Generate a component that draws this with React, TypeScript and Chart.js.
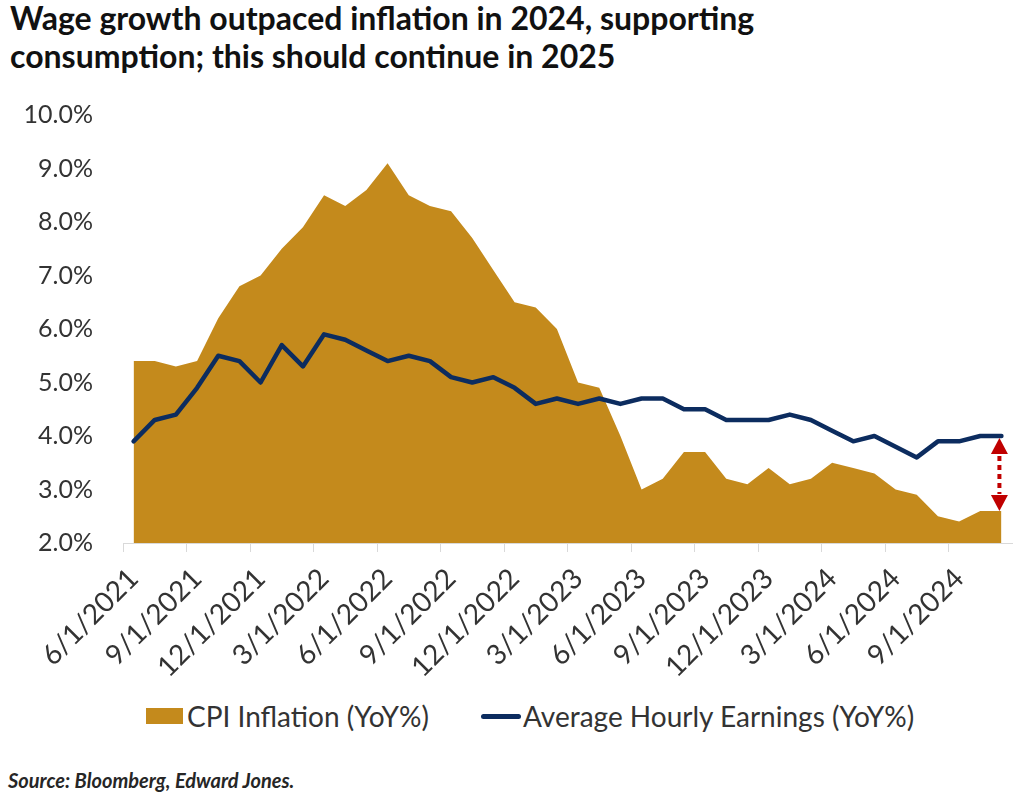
import React, { useEffect, useRef } from 'react';
import { Chart, registerables } from 'chart.js';

Chart.register(...registerables);

const categories = [
  '6/1/2021', '7/1/2021', '8/1/2021', '9/1/2021', '10/1/2021', '11/1/2021', '12/1/2021',
  '1/1/2022', '2/1/2022', '3/1/2022', '4/1/2022', '5/1/2022', '6/1/2022', '7/1/2022',
  '8/1/2022', '9/1/2022', '10/1/2022', '11/1/2022', '12/1/2022',
  '1/1/2023', '2/1/2023', '3/1/2023', '4/1/2023', '5/1/2023', '6/1/2023', '7/1/2023',
  '8/1/2023', '9/1/2023', '10/1/2023', '11/1/2023', '12/1/2023',
  '1/1/2024', '2/1/2024', '3/1/2024', '4/1/2024', '5/1/2024', '6/1/2024', '7/1/2024',
  '8/1/2024', '9/1/2024', '10/1/2024', '11/1/2024',
];

const tickLabels = [
  '6/1/2021', '9/1/2021', '12/1/2021', '3/1/2022', '6/1/2022', '9/1/2022', '12/1/2022',
  '3/1/2023', '6/1/2023', '9/1/2023', '12/1/2023', '3/1/2024', '6/1/2024', '9/1/2024',
];

const cpiInflation = [
  5.4, 5.4, 5.3, 5.4, 6.2, 6.8, 7.0,
  7.5, 7.9, 8.5, 8.3, 8.6, 9.1, 8.5,
  8.3, 8.2, 7.7, 7.1, 6.5,
  6.4, 6.0, 5.0, 4.9, 4.0, 3.0, 3.2,
  3.7, 3.7, 3.2, 3.1, 3.4,
  3.1, 3.2, 3.5, 3.4, 3.3, 3.0, 2.9,
  2.5, 2.4, 2.6, 2.6,
];

const hourlyEarnings = [
  3.9, 4.3, 4.4, 4.9, 5.5, 5.4, 5.0,
  5.7, 5.3, 5.9, 5.8, 5.6, 5.4, 5.5,
  5.4, 5.1, 5.0, 5.1, 4.9,
  4.6, 4.7, 4.6, 4.7, 4.6, 4.7, 4.7,
  4.5, 4.5, 4.3, 4.3, 4.3,
  4.4, 4.3, 4.1, 3.9, 4.0, 3.8, 3.6,
  3.9, 3.9, 4.0, 4.0,
];

const yTicks = [2, 3, 4, 5, 6, 7, 8, 9, 10];

const GOLD = '#C48A1C';
const NAVY = '#0C2C5F';
const RED = '#C00000';
const TEXT = '#333333';
const FONT = 'Lato, "Open Sans", sans-serif';

const gapArrowPlugin = {
  id: 'gapArrow',
  afterDatasetsDraw(chart: any) {
    const xs = chart.scales.x;
    const ys = chart.scales.y;
    const last = categories.length - 1;
    const x = xs.getPixelForValue(last) - 2;
    const yTop = ys.getPixelForValue(hourlyEarnings[last]) + 2;
    const yBot = ys.getPixelForValue(cpiInflation[last]);
    const head = 16;
    const half = 8.5;
    const ctx = chart.ctx;
    ctx.save();
    ctx.fillStyle = RED;
    ctx.strokeStyle = RED;
    ctx.beginPath();
    ctx.moveTo(x, yTop);
    ctx.lineTo(x + half, yTop + head);
    ctx.lineTo(x - half, yTop + head);
    ctx.closePath();
    ctx.fill();
    ctx.beginPath();
    ctx.moveTo(x, yBot);
    ctx.lineTo(x + half, yBot - head);
    ctx.lineTo(x - half, yBot - head);
    ctx.closePath();
    ctx.fill();
    ctx.lineWidth = 4;
    ctx.setLineDash([5, 4]);
    ctx.beginPath();
    ctx.moveTo(x, yTop + head + 2);
    ctx.lineTo(x, yBot - head - 1);
    ctx.stroke();
    ctx.restore();
  },
};

const CANVAS_TOP = 90;
const CANVAS_H = 603;

export default function App() {
  const canvasRef = useRef<HTMLCanvasElement | null>(null);

  useEffect(() => {
    if (!canvasRef.current) return;
    const chart = new Chart(canvasRef.current, {
      type: 'line',
      data: {
        labels: categories,
        datasets: [
          {
            label: 'Average Hourly Earnings (YoY%)',
            data: hourlyEarnings,
            borderColor: NAVY,
            borderWidth: 4.5,
            pointRadius: 0,
            tension: 0,
            fill: false,
            borderJoinStyle: 'round',
            borderCapStyle: 'round',
            order: 0,
          },
          {
            label: 'CPI Inflation (YoY%)',
            data: cpiInflation,
            borderColor: GOLD,
            backgroundColor: GOLD,
            borderWidth: 0,
            pointRadius: 0,
            tension: 0,
            fill: 'start',
            order: 1,
          },
        ],
      },
      options: {
        animation: false,
        responsive: false,
        maintainAspectRatio: false,
        layout: { padding: { top: 25, right: 12, left: 0, bottom: 0 } },
        plugins: {
          legend: { display: false },
          tooltip: { enabled: false },
          title: { display: false },
        },
        scales: {
          x: {
            type: 'category',
            offset: true,
            grid: {
              offset: true,
              drawOnChartArea: false,
              drawTicks: true,
              tickLength: 9,
              lineWidth: 1,
              color: (ctx: any) => (ctx.index % 3 === 0 ? '#D9D9D9' : 'rgba(0,0,0,0)'),
            },
            border: { display: true, color: '#D9D9D9', width: 1 },
            ticks: {
              autoSkip: false,
              maxRotation: 45,
              minRotation: 45,
              padding: 10,
              color: TEXT,
              font: { family: FONT, size: 28 },
              callback: (_v: any, i: number) =>
                tickLabels.includes(categories[i]) ? categories[i] : '',
            },
            afterFit: (scale: any) => {
              scale.height = 150;
              scale.paddingLeft = 0;
              scale.paddingRight = 0;
            },
          },
          y: {
            min: 2,
            max: 10,
            afterBuildTicks: (scale: any) => {
              scale.ticks = yTicks.map((v) => ({ value: v }));
            },
            grid: { display: false, drawTicks: false },
            border: { display: false },
            ticks: {
              padding: 30,
              color: TEXT,
              font: { family: FONT, size: 25, lineHeight: 1.2 },
              callback: (v: any) => Number(v).toFixed(1) + '%',
            },
            afterFit: (scale: any) => {
              scale.width = 123;
              scale.paddingTop = 0;
              scale.paddingBottom = 0;
            },
          },
        },
      },
      plugins: [gapArrowPlugin],
    } as any);
    return () => chart.destroy();
  }, []);

  return (
    <div style={{ position: 'absolute', left: 0, top: 0, width: 1024, height: 794, background: '#fff', fontFamily: FONT, overflow: 'hidden' }}>
      <div
        style={{
          position: 'absolute',
          left: 10,
          top: -1,
          fontWeight: 700,
          fontSize: 32,
          lineHeight: '38px',
          color: '#111',
          whiteSpace: 'nowrap',
        }}
      >
        Wage growth outpaced inflation in 2024, supporting
        <br />
        consumption; this should continue in 2025
      </div>
      <canvas
        ref={canvasRef}
        width={1024}
        height={CANVAS_H}
        style={{ position: 'absolute', left: 0, top: CANVAS_TOP, width: 1024, height: CANVAS_H }}
      />
      <div style={{ position: 'absolute', left: 146, top: 708, width: 37, height: 16, background: GOLD }} />
      <div style={{ position: 'absolute', left: 187, top: 699, fontSize: 28, lineHeight: '34px', color: TEXT, whiteSpace: 'nowrap' }}>
        CPI Inflation (YoY%)
      </div>
      <div style={{ position: 'absolute', left: 481, top: 714, width: 40, height: 5, borderRadius: 3, background: NAVY }} />
      <div style={{ position: 'absolute', left: 523, top: 699, fontSize: 28, lineHeight: '34px', color: TEXT, whiteSpace: 'nowrap' }}>
        Average Hourly Earnings (YoY%)
      </div>
      <div
        style={{
          position: 'absolute',
          left: 8,
          top: 768,
          fontSize: 20,
          fontWeight: 700,
          fontStyle: 'italic',
          lineHeight: '24px',
          color: '#262626',
          whiteSpace: 'nowrap',
        }}
      >
        Source: Bloomberg, Edward Jones.
      </div>
    </div>
  );
}
